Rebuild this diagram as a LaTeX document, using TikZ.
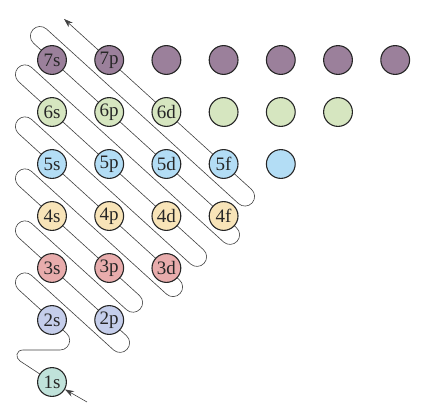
\documentclass[tikz,border=0pt]{standalone}
\usepackage{fontspec}
\setmainfont{Liberation Serif}
\usetikzlibrary{arrows.meta,backgrounds}
\definecolor{c7}{HTML}{9B809B}
\definecolor{c6}{HTML}{D6E6C0}
\definecolor{c5}{HTML}{B3DDF5}
\definecolor{c4}{HTML}{F8E4B8}
\definecolor{c3}{HTML}{E8ACAC}
\definecolor{c2}{HTML}{C5CEEB}
\definecolor{c1}{HTML}{C0E2DA}
\tikzset{
  orb/.style={circle,draw=black!85,line width=1.1pt,minimum size=28.8pt,inner sep=0pt,
    font=\fontsize{19}{19}\selectfont,text=black!85},
  zig/.style={draw=black!75,line width=0.6pt},
  tipar/.style={-{Stealth[length=9pt,width=6pt]}},
}
\begin{document}
\begin{tikzpicture}[x=1pt,y=-1pt]
\useasboundingbox (0,0) rectangle (425,416);
% row 7
\node[orb,fill=c7] (n7s) at (52,60) {7s};
\node[orb,fill=c7] (n7p) at (109.2,60) {7p};
\node[orb,fill=c7] (b7a) at (166.4,60) {};
\node[orb,fill=c7] (b7b) at (223.6,60) {};
\node[orb,fill=c7] (b7c) at (280.8,60) {};
\node[orb,fill=c7] (b7d) at (338,60) {};
\node[orb,fill=c7] (b7e) at (395.2,60) {};
% row 6
\node[orb,fill=c6] (n6s) at (52,112) {6s};
\node[orb,fill=c6] (n6p) at (109.2,112) {6p};
\node[orb,fill=c6] (n6d) at (166.4,112) {6d};
\node[orb,fill=c6] (b6a) at (223.6,112) {};
\node[orb,fill=c6] (b6b) at (280.8,112) {};
\node[orb,fill=c6] (b6c) at (338,112) {};
% row 5
\node[orb,fill=c5] (n5s) at (52,164) {5s};
\node[orb,fill=c5] (n5p) at (109.2,164) {5p};
\node[orb,fill=c5] (n5d) at (166.4,164) {5d};
\node[orb,fill=c5] (n5f) at (223.6,164) {5f};
\node[orb,fill=c5] (b5a) at (280.8,164) {};
% row 4
\node[orb,fill=c4] (n4s) at (52,216) {4s};
\node[orb,fill=c4] (n4p) at (109.2,216) {4p};
\node[orb,fill=c4] (n4d) at (166.4,216) {4d};
\node[orb,fill=c4] (n4f) at (223.6,216) {4f};
% row 3
\node[orb,fill=c3] (n3s) at (52,268) {3s};
\node[orb,fill=c3] (n3p) at (109.2,268) {3p};
\node[orb,fill=c3] (n3d) at (166.4,268) {3d};
% row 2
\node[orb,fill=c2] (n2s) at (52,320) {2s};
\node[orb,fill=c2] (n2p) at (109.2,320) {2p};
% row 1
\node[orb,fill=c1] (n1s) at (52,382) {1s};
\coordinate (s0) at (87,402);
\coordinate (tip) at (64,18.9);
\begin{scope}[on background layer]
\draw[zig,tipar] (n1s.center) -- (20,361) .. controls (15,357.7) and (16,350) .. (23,350) -- (60.1,350)
  arc[start angle=90,end angle=-47.726,radius=9.619]
  -- (18.529,289.572) arc[start angle=132.274,end angle=312.274,radius=9.619]
  -- (113.529,349.935) arc[start angle=132.274,end angle=-47.726,radius=9.619]
  -- (18.529,237.572) arc[start angle=132.274,end angle=312.274,radius=9.619]
  -- (126.529,309.753) arc[start angle=132.274,end angle=-47.726,radius=9.619]
  -- (18.529,185.572) arc[start angle=132.274,end angle=312.274,radius=9.619]
  -- (166.529,294.117) arc[start angle=132.274,end angle=-47.726,radius=9.619]
  -- (18.529,133.572) arc[start angle=132.274,end angle=312.274,radius=9.619]
  -- (190.529,263.935) arc[start angle=132.274,end angle=-47.726,radius=9.619]
  -- (18.529,81.572) arc[start angle=132.274,end angle=312.274,radius=9.619]
  -- (223.529,241.935) arc[start angle=132.274,end angle=-47.726,radius=9.619]
  -- (33.529,43.208) arc[start angle=132.274,end angle=312.274,radius=9.619]
  -- (238.529,203.572) arc[start angle=132.274,end angle=-47.726,radius=9.619]
  -- (tip);
\end{scope}
\draw[zig,tipar] (s0) -- (n1s);
\end{tikzpicture}
\end{document}
